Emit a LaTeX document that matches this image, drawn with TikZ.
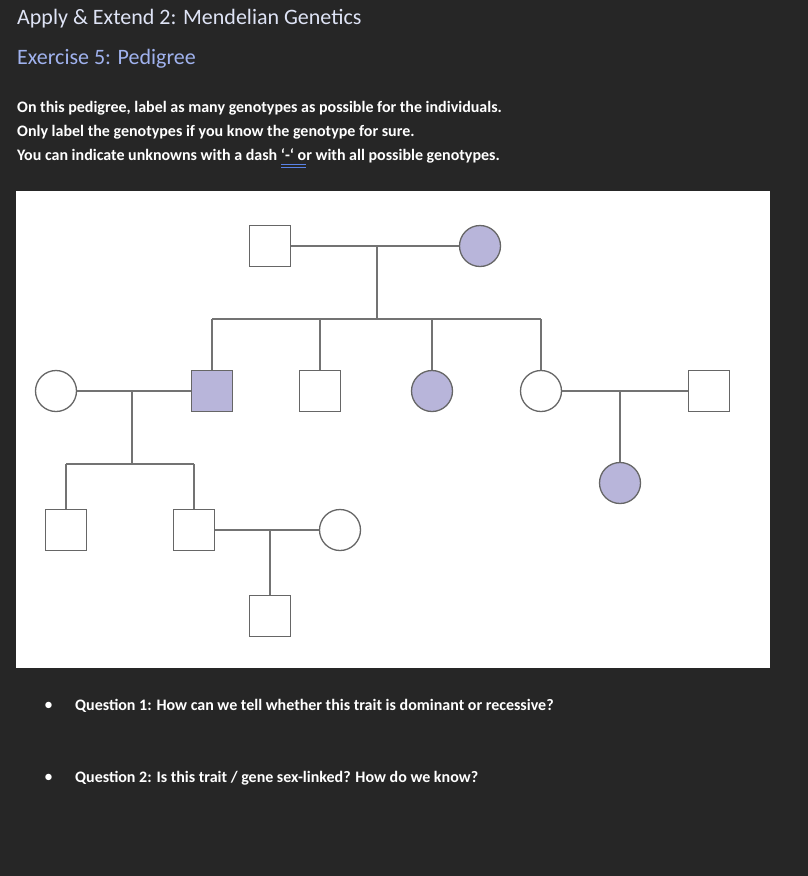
\documentclass[tikz,border=0pt]{standalone}
\usepackage{fontspec}
\setmainfont{Carlito}
\definecolor{affc}{HTML}{B8B5DA}
\definecolor{bgc}{HTML}{262626}
\definecolor{tonec}{HTML}{DEE3F5}
\definecolor{ttwoc}{HTML}{A0B2EE}
\definecolor{ulc}{HTML}{5A82E6}
\begin{document}
\begin{tikzpicture}[x=1pt,y=-1pt,
  ind/.style={draw=black!60,line width=1.3pt,fill=white,inner sep=0pt,minimum size=41pt},
  m/.style={ind,rectangle},
  f/.style={ind,circle},
  aff/.style={fill=affc},
  ln/.style={draw=black!55,line width=1.2pt},
  txt/.style={anchor=west,inner sep=0pt,font=\bfseries\fontsize{16}{19}\selectfont,text=white}]
\fill[bgc] (0,0) rectangle (808,876);
\useasboundingbox (0,0) rectangle (808,876);
\fill[white] (16,191) rectangle (770,668);
\node[txt,font=\fontsize{22}{26}\selectfont,text=tonec] (t1) at (17,19) {Apply \& Extend 2: Mendelian Genetics};
\node[txt,font=\fontsize{22}{26}\selectfont,text=ttwoc] (t2) at (17,59) {Exercise 5: Pedigree};
\node[txt] (b1) at (17,108) {On this pedigree, label as many genotypes as possible for the individuals.};
\node[txt] (b2) at (17,132) {Only label the genotypes if you know the genotype for sure.};
\node[txt] (b3) at (17,156) {You can indicate unknowns with a dash ‘-‘ or with all possible genotypes.};
\node[txt] (q1) at (75,706) {Question 1: How can we tell whether this trait is dominant or recessive?};
\node[txt] (q2) at (75,778) {Question 2: Is this trait / gene sex-linked? How do we know?};
\node[txt,font=\fontsize{18}{20}\selectfont] (d1) at (44,706) {•};
\node[txt,font=\fontsize{18}{20}\selectfont] (d2) at (44,778) {•};
% gen 1
\node[m] (g1m) at (270,246) {};
\node[f,aff] (g1f) at (480,246) {};
\coordinate (c1) at (377,246);
\coordinate (c1b) at (377,319);
\draw[ln] (g1m) -- (g1f);
\draw[ln] (c1) -- (c1b);
\draw[ln] (212,319) -- (541,319);
% gen 2
\node[f] (w1) at (56,391) {};
\node[m,aff] (s1) at (212,391) {};
\node[m] (s2) at (320,391) {};
\node[f,aff] (s3) at (432,391) {};
\node[f] (s4) at (541,391) {};
\node[m] (h4) at (709,391) {};
\foreach \n/\x in {s1/212,s2/320,s3/432,s4/541} \draw[ln] (\x,319) -- (\n);
\draw[ln] (w1) -- (s1);
\draw[ln] (s4) -- (h4);
\draw[ln] (132,391) -- (132,464);
\draw[ln] (66,464) -- (194,464);
\node[f,aff] (k4) at (620,483) {};
\draw[ln] (620,391) -- (k4);
% gen 3
\node[m] (k1) at (66,530) {};
\node[m] (k2) at (194,530) {};
\node[f] (w2) at (340,530) {};
\draw[ln] (66,464) -- (k1);
\draw[ln] (194,464) -- (k2);
\draw[ln] (k2) -- (w2);
\node[m] (gk) at (270,616) {};
\draw[ln] (270,530) -- (gk);
% underline
\draw[ulc,line width=0.8pt] (281,164) -- (306,164) (281,167) -- (306,167);
\end{tikzpicture}
\end{document}
